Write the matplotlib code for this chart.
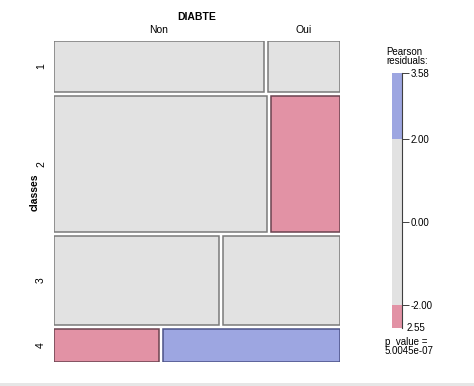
import numpy as np
import matplotlib
matplotlib.use("Agg")
from matplotlib import pyplot as plt
from matplotlib.patches import Rectangle

plt.rcParams['font.family'] = ['Liberation Sans', 'DejaVu Sans']

classes = ["1", "2", "3", "4"]
diabte = ["Non", "Oui"]
# counts (rows = classes, cols = DIABTE)
counts = np.array([[58, 20],
                   [157, 51],
                   [79, 56],
                   [19, 32]])
p_value = "5.0045e-07"

GREY = "#e2e2e2"
BLUE = "#9da6e1"
RED = "#e292a5"


def shade(r):
    if r > 2:
        return BLUE, "#4c5288"
    if r < -2:
        return RED, "#6b4350"
    return GREY, "#7a7a7a"


def main():
    W, H = 474, 386
    fig = plt.figure(figsize=(W / 100, H / 100), dpi=100)

    n = counts.sum()
    expected = np.outer(counts.sum(1), counts.sum(0)) / n
    resid = (counts - expected) / np.sqrt(expected)

    ax = fig.add_axes([54 / W, 1 - 362 / H, 286 / W, 321 / H])
    ax.set_xlim(0, 1)
    ax.set_ylim(1, 0)
    ax.axis("off")

    gy = 4 / 321
    gx = 3.5 / 286
    row_h = counts.sum(1) / n * (1 - gy * (len(classes) - 1))
    y = 0
    for i, lab in enumerate(classes):
        w = counts[i] / counts[i].sum() * (1 - gx * (len(diabte) - 1))
        x = 0
        for j in range(len(diabte)):
            fc, ec = shade(resid[i, j])
            ax.add_patch(Rectangle((x, y), w[j], row_h[i], facecolor=fc,
                                   edgecolor=ec, lw=1.1))
            if i == 0:
                ax.text(x + w[j] / 2, -0.02, diabte[j], ha="center",
                        va="bottom", fontsize=7.5)
            x += w[j] + gx
        ax.text(-0.045, y + row_h[i] / 2, lab, rotation=90, ha="center",
                va="center", fontsize=7.5)
        y += row_h[i] + gy

    ax.text(0.5, -0.058, "DIABTE", ha="center", va="bottom", fontsize=7.5,
            fontweight="bold")
    ax.text(-0.068, 0.47, "classes", rotation=90, ha="center", va="center",
            fontsize=7.5, fontweight="bold")

    # legend bar
    rmax, rmin = resid.max(), resid.min()
    cax = fig.add_axes([392 / W, 1 - 328 / H, 10 / W, 255 / H])
    cax.set_ylim(rmin, rmax)
    cax.set_xlim(0, 1)
    cax.axhspan(2, rmax, color=BLUE, lw=0)
    cax.axhspan(-2, 2, color=GREY, lw=0)
    cax.axhspan(rmin, -2, color=RED, lw=0)
    for s in ["top", "bottom", "left"]:
        cax.spines[s].set_visible(False)
    cax.spines["right"].set_color("#404040")
    cax.spines["right"].set_linewidth(0.8)
    cax.set_xticks([])
    ticks = [rmax, 2, 0, -2, rmin]
    labels = [f"{rmax:.2f}", "2.00", "0.00", "-2.00", f"{abs(rmin):.2f}"]
    cax.yaxis.tick_right()
    cax.set_yticks(ticks[:4])
    cax.set_yticklabels(labels[:4], fontsize=7)
    cax.tick_params(axis="y", length=5, width=0.7, color="#404040", pad=1.5)
    cax.text(1.5, rmin, labels[4], ha="left", va="center", fontsize=7,
             transform=cax.get_yaxis_transform())
    fig.text(386 / W, 1 - 66 / H, "Pearson\nresiduals:", fontsize=7,
             ha="left", va="bottom", linespacing=0.85)
    fig.text(385 / W, 1 - 337 / H, "p  value =\n" + p_value, fontsize=7,
             ha="left", va="top", linespacing=0.85)

    fig.patches.append(Rectangle((0, 0), 1, 3 / H, transform=fig.transFigure,
                                 facecolor="#e6e6e6", lw=0))
    fig.savefig("out.png", dpi=100)


if __name__ == "__main__":
    main()
